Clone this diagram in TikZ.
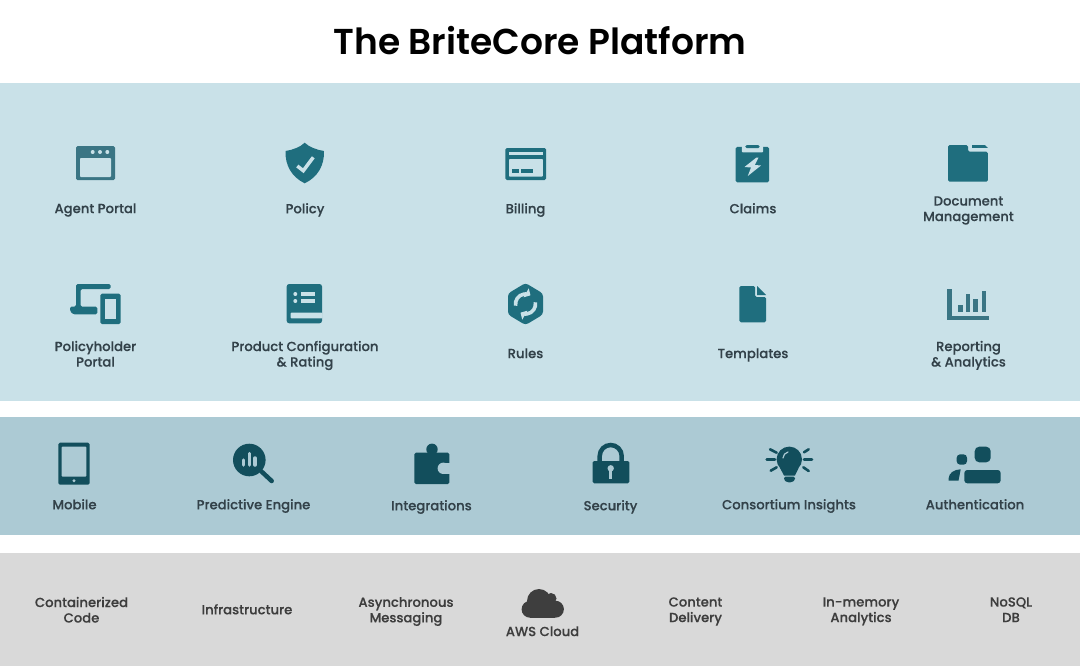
\documentclass[tikz,border=0pt]{standalone}
\usepackage{fontspec}
\IfFontExistsTF{Poppins Medium}{\setmainfont{Poppins Medium}[FakeBold=0.2]}{\setmainfont{Poppins}[FakeBold=0.4]}
\IfFontExistsTF{Poppins SemiBold}{\newfontfamily\titlefont{Poppins SemiBold}}{\newfontfamily\titlefont{Poppins}[FakeBold=1]}
\usetikzlibrary{arrows.meta}
\definecolor{bandone}{HTML}{C9E1E8}
\definecolor{bandtwo}{HTML}{ACCAD4}
\definecolor{bandthree}{HTML}{D9D9D9}
\definecolor{tealicon}{HTML}{1F6E7E}
\definecolor{greyicon}{HTML}{3A7584}
\definecolor{darkicon}{HTML}{124E5C}
\definecolor{labeltext}{HTML}{33424A}
\definecolor{cloudtext}{HTML}{3E3E3E}
\begin{document}
\begin{tikzpicture}[x=1pt, y=-1pt,
    lbl/.style={inner sep=0pt, align=center, text=labeltext, font=\fontsize{13.2}{15.5}\selectfont,
        execute at begin node={\vphantom{Apg}}, execute at end node={\vphantom{Apg}}},
    lblgrey/.style={lbl, text=cloudtext},
    heading/.style={inner sep=0pt, text=black, font=\titlefont\fontsize{36}{40}\selectfont},
    tealfill/.style={fill=tealicon, rounded corners=1.5pt},
    greyfill/.style={fill=greyicon, rounded corners=1.5pt},
    darkfill/.style={fill=darkicon, rounded corners=1.5pt},
    cutone/.style={fill=bandone, rounded corners=0.8pt},
    cuttwo/.style={fill=bandtwo, rounded corners=0.8pt}]
    \useasboundingbox (0,0) rectangle (1080,667);
    \fill[white] (0,0) rectangle (1080,667);
    \fill[bandone] (0,83) rectangle (1080,401);
    \fill[bandtwo] (0,417) rectangle (1080,535);
    \fill[bandthree] (0,553) rectangle (1080,666);

    \node[heading] (title) at (540,41) {The BriteCore Platform};

    % first row of the top band
    \node[lbl] (agent) at (95.5,210) {Agent Portal};
    \node[lbl] (policy) at (305,210) {Policy};
    \node[lbl] (billing) at (525.5,210) {Billing};
    \node[lbl] (claims) at (753,210) {Claims};
    \node[lbl] (docs) at (968.5,210.5) {Document\\Management};

    % second row of the top band
    \node[lbl] (holder) at (95.5,355.5) {Policyholder\\Portal};
    \node[lbl] (product) at (305,355.5) {Product Configuration\\\& Rating};
    \node[lbl] (rules) at (525.5,355) {Rules};
    \node[lbl] (templates) at (753,355) {Templates};
    \node[lbl] (reporting) at (968.5,355.5) {Reporting\\\& Analytics};

    % middle band
    \node[lbl] (mobile) at (74.5,506) {Mobile};
    \node[lbl] (predictive) at (253.5,506) {Predictive Engine};
    \node[lbl] (integrations) at (431.5,507) {Integrations};
    \node[lbl] (security) at (610.5,507) {Security};
    \node[lbl] (consortium) at (789,506) {Consortium Insights};
    \node[lbl] (auth) at (975,506) {Authentication};

    % bottom band
    \node[lblgrey] (code) at (81.5,611.5) {Containerized\\Code};
    \node[lblgrey] (infra) at (247,611) {Infrastructure};
    \node[lblgrey] (async) at (406,611.5) {Asynchronous\\Messaging};
    \node[lblgrey] (aws) at (542.5,633) {AWS Cloud};
    \node[lblgrey] (content) at (695.5,611.5) {Content\\Delivery};
    \node[lblgrey] (memory) at (861,611.5) {In-memory\\Analytics};
    \node[lblgrey] (nosql) at (1011,611.5) {NoSQL\\DB};

    % agent portal
    \fill[greyfill] (76,146) rectangle (115,180);
    \fill[cutone] (80,158) rectangle (111,177);
    \foreach \dotx in {92.7,100,107.3}
        \fill[bandone] (\dotx,152) circle (2);

    % policy
    \fill[tealicon] (304.7,142.7) .. controls (309,147) and (317,150) .. (324,151) .. controls (324.5,165) and (318,177) .. (304.7,183.3) .. controls (291.5,177) and (285,165) .. (285.5,151) .. controls (292.5,150) and (300.5,147) .. (304.7,142.7) -- cycle;
    \draw[bandone, line width=3.5pt] (297.3,166) -- (303.3,170.7) -- (313.3,157.3);

    % billing
    \fill[tealfill] (505.3,148) rectangle (546.2,180);
    \fill[bandone] (509,152) rectangle (542.8,155);
    \fill[cutone] (509,159) rectangle (542.8,176.6);
    \fill[tealicon] (512.4,169.2) rectangle (519.2,172.6);
    \fill[tealicon] (521.2,169.2) rectangle (532.7,172.6);

    % claims
    \fill[tealfill] (735.7,146.9) rectangle (769,182.4);
    \fill[cutone] (741.8,144) rectangle (763.1,152.3);
    \fill[tealfill] (745.2,145.2) rectangle (759.7,148.2);
    \fill[bandone] (756.5,157.5) -- (744.5,167) -- (751,167.5) -- (747.8,176) -- (761,165.5) -- (754.8,165) -- (758.5,157.5) -- cycle;

    % document management
    \fill[tealfill] (948,145.2) -- (968,145.2) -- (968,151.6) -- (987.8,151.6) -- (987.8,181.7) -- (948,181.7) -- cycle;
    \fill[tealicon] (972,145.2) -- (985,145.2) -- (987.8,147.8) -- (972,147.8) -- cycle;

    % policyholder portal
    \fill[tealfill] (76,284) -- (110.7,284) -- (110.7,289) -- (80.7,289) -- (80.7,306.7) -- (97.3,306.7) -- (97.3,314.3) -- (73,314.3) -- (70,311) -- (70,306.7) -- (76,306.7) -- cycle;
    \fill[tealfill] (100.3,293.7) rectangle (120.7,324);
    \fill[bandone] (105,299) rectangle (116,319);

    % product configuration
    \fill[tealicon, rounded corners=2.5pt] (286.7,284) -- (322,284) -- (322,323.3) -- (286.7,323.3) -- cycle;
    \fill[cutone] (290.7,312.7) rectangle (322.5,318.3);
    \fill[bandone] (295.3,294) circle (2);
    \fill[bandone] (295.3,301) circle (2);
    \fill[bandone] (300.7,292.3) rectangle (315.3,295.7);
    \fill[bandone] (300.7,299.3) rectangle (315.3,302.7);

    % rules
    \fill[tealicon, rounded corners=3pt] (525.5,283) -- (543,293.5) -- (543,314.5) -- (525.5,325) -- (508,314.5) -- (508,293.5) -- cycle;
    \draw[bandone, line width=3.6pt, -{Triangle[length=5pt,width=10pt]}] (525.5,304) ++(170:10) arc[start angle=170, end angle=300, radius=10];
    \draw[bandone, line width=3.6pt, -{Triangle[length=5pt,width=10pt]}] (525.5,304) ++(350:10) arc[start angle=350, end angle=480, radius=10];

    % templates
    \fill[tealfill] (739.3,286) -- (755,286) -- (755,297) -- (766,297) -- (766,322.3) -- (739.3,322.3) -- cycle;
    \fill[tealicon] (757,286) -- (766,295) -- (757,295) -- cycle;

    % reporting
    \fill[greyicon] (947,288.5) rectangle (951.8,320);
    \fill[greyicon] (947,315.5) rectangle (989,320);
    \fill[greyicon] (957.9,304.7) rectangle (962.6,311.5);
    \fill[greyicon] (965.7,293.6) rectangle (970.4,311.5);
    \fill[greyicon] (973.4,298.6) rectangle (978.2,311.5);
    \fill[greyicon] (981.5,290.5) rectangle (986.3,311.5);

    % mobile
    \fill[darkfill] (58.3,442.7) rectangle (89.7,484.7);
    \fill[cuttwo] (61.7,446.7) rectangle (86.3,476.7);
    \fill[bandtwo] (74,480.7) circle (1.7);

    % predictive engine
    \fill[darkicon] (249.3,460) circle (16.3);
    \draw[darkicon, line width=4.5pt, line cap=round] (261.3,471.3) -- (271.7,481);
    \draw[bandtwo, line width=3.5pt, line cap=round] (243.7,460) -- (243.7,465);
    \draw[bandtwo, line width=3.5pt, line cap=round] (249.3,453.5) -- (249.3,465);
    \draw[bandtwo, line width=3.5pt, line cap=round] (255,458) -- (255,465);

    % integrations
    \fill[darkfill] (414.3,452.7) rectangle (449.3,484);
    \fill[darkicon] (432,449.3) circle (5.7);
    \fill[bandtwo] (443.3,468.3) circle (5.7);
    \fill[bandtwo] (443.3,462.6) rectangle (450,474);

    % security
    \fill[darkfill] (592.7,461) rectangle (629.3,483.3);
    \draw[darkicon, line width=4.5pt] (599.7,462) -- (599.7,456) arc[start angle=180, end angle=360, radius=11] -- (621.7,462);
    \fill[bandtwo] (610.7,468.3) circle (3.2);
    \fill[bandtwo] (609.2,468.3) rectangle (612.2,479.3);

    % consortium insights
    \fill[darkicon] (789.3,459.3) circle (12.7);
    \fill[darkicon] (780,468) -- (798.6,468) -- (795,475.5) -- (784,475.5) -- cycle;
    \fill[darkicon, rounded corners=1.5pt] (784,476.7) -- (795,476.7) -- (795,480) -- (792,482.3) -- (787,482.3) -- (784,480) -- cycle;
    \draw[bandtwo, line width=1.2pt, line cap=round] (783,458) .. controls (783.3,455) and (785,452.8) .. (788,452);
    \foreach \rayax/\rayay/\raybx/\rayby in {766.7/459.3/775/459.3, 770/449.3/776.7/452.7, 770.7/470.7/776.7/467.3, 804/452.3/808.7/449.3, 804/459.3/812/459.3, 803.3/467.3/808.7/471}
        \draw[darkicon, line width=2.6pt, line cap=round] (\rayax,\rayay) -- (\raybx,\rayby);

    % authentication
    \fill[darkicon, rounded corners=4.5pt] (974.7,446.7) rectangle (990.7,462.3);
    \fill[darkicon, rounded corners=3pt] (964.3,470) rectangle (1000.7,483.3);
    \fill[darkicon, rounded corners=3.5pt] (956.7,454.3) rectangle (967,464.7);
    \fill[darkicon] (960.7,469.3) -- (958.5,480.7) -- (948.7,480.7) -- (948.7,478) .. controls (949,473) and (954,469.5) .. (960.7,469.3) -- cycle;

    % aws cloud
    \fill[cloudtext] (539,601) circle (12);
    \fill[cloudtext] (530,609.3) circle (8.4);
    \fill[cloudtext] (551,598.5) circle (5.5);
    \fill[cloudtext] (555.4,609.2) circle (8.5);
    \fill[cloudtext] (530,603) rectangle (555,617.7);
\end{tikzpicture}
\end{document}
